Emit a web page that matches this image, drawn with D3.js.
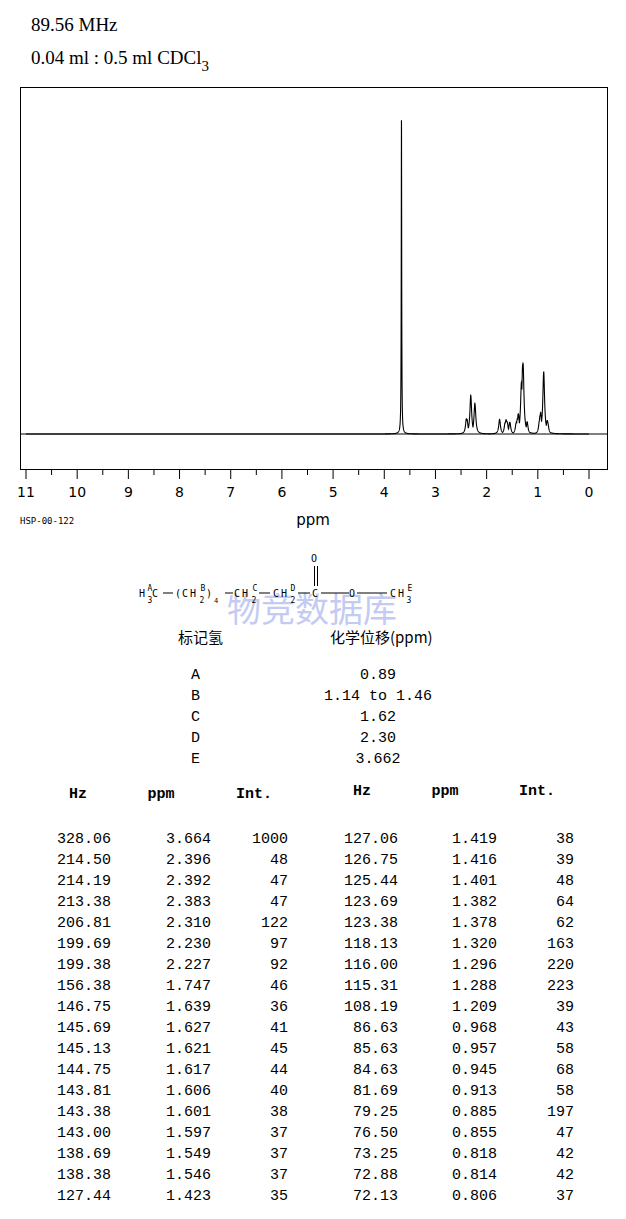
<!DOCTYPE html>
<html><head><meta charset="utf-8">
<script src="https://cdn.jsdelivr.net/npm/d3@7"></script>
<style>body{margin:0;background:#fff}</style>
</head><body>
<script>
const hz  = [328.06,214.50,214.19,213.38,206.81,199.69,199.38,156.38,146.75,145.69,145.13,144.75,143.81,143.38,143.00,138.69,138.38,127.44,
             127.06,126.75,125.44,123.69,123.38,118.13,116.00,115.31,108.19,86.63,85.63,84.63,81.69,79.25,76.50,73.25,72.88,72.13];
const ppm = [3.664,2.396,2.392,2.383,2.310,2.230,2.227,1.747,1.639,1.627,1.621,1.617,1.606,1.601,1.597,1.549,1.546,1.423,
             1.419,1.416,1.401,1.382,1.378,1.320,1.296,1.288,1.209,0.968,0.957,0.945,0.913,0.885,0.855,0.818,0.814,0.806];
const inten = [1000,48,47,47,122,97,92,46,36,41,45,44,40,38,37,37,37,35,
               38,39,48,64,62,163,220,223,39,43,58,68,58,197,47,42,42,37];
const xTicks = [11,10,9,8,7,6,5,4,3,2,1,0];
const labels = ['A','B','C','D','E'];
const shifts = ['0.89','1.14 to 1.46','1.62','2.30','3.662'];

const W = 626, H = 1219;
const svg = d3.select('body').append('svg').attr('width', W).attr('height', H);

const x = d3.scaleLinear().domain([11, 0]).range([26, 589]);
const y = d3.scaleLinear().domain([0, 1000]).range([434, 117]);

// header
svg.append('text').attr('x', 31).attr('y', 31).attr('font-family', 'Liberation Serif').attr('font-size', 19).text('89.56 MHz');
const t2 = svg.append('text').attr('x', 31).attr('y', 64).attr('font-family', 'Liberation Serif').attr('font-size', 19);
t2.append('tspan').text('0.04 ml : 0.5 ml CDCl');
t2.append('tspan').attr('dy', 7).attr('font-size', 15).text('3');

svg.append('rect').attr('x', 20.5).attr('y', 87.5).attr('width', 587).attr('height', 382)
  .attr('fill', 'none').attr('stroke', '#000');

// spectrum: each listed peak drawn as a lorentzian, envelope = highest line
const grid = d3.range(0, 11.0001, 0.0015);
const pts = grid.map(p => {
  let s = 0;
  for (let i = 0; i < ppm.length; i++) {
    const w = i === 0 ? 0.005 : 0.02;
    const d = (p - ppm[i]) / w;
    s = Math.max(s, inten[i] / (1 + d * d));
  }
  return [p, s];
});
svg.append('path').datum(pts)
  .attr('d', d3.line().x(d => x(d[0])).y(d => y(d[1])))
  .attr('fill', 'none').attr('stroke', '#000').attr('stroke-width', 1.1);
svg.append('line').attr('x1', 21).attr('x2', 607).attr('y1', y(0)).attr('y2', y(0)).attr('stroke', '#000');

// axis
const ax = svg.append('g');
ax.selectAll('.maj').data(xTicks).enter().append('line')
  .attr('x1', d => x(d)).attr('x2', d => x(d)).attr('y1', 470).attr('y2', 479).attr('stroke', '#000');
ax.selectAll('.min').data(xTicks.slice(0, -1).map(d => d - 0.5)).enter().append('line')
  .attr('x1', d => x(d)).attr('x2', d => x(d)).attr('y1', 470).attr('y2', 475).attr('stroke', '#000');
ax.selectAll('text').data(xTicks).enter().append('text')
  .attr('x', d => x(d)).attr('y', 497).attr('text-anchor', 'middle')
  .attr('font-family', 'DejaVu Sans').attr('font-size', 14).text(d => d);
svg.append('text').attr('x', 313).attr('y', 525).attr('text-anchor', 'middle')
  .attr('font-family', 'DejaVu Sans').attr('font-size', 15).text('ppm');
svg.append('text').attr('x', 20).attr('y', 524).attr('font-family', 'DejaVu Sans Mono').attr('font-size', 9).text('HSP-00-122');

// watermark
svg.append('text').attr('x', 312).attr('y', 622).attr('text-anchor', 'middle')
  .attr('font-family', 'Noto Sans CJK SC').attr('font-size', 34).attr('fill', '#c4cbf2')
  .text('物竞数据库');

// structure (glyph positions)
const st = svg.append('g').attr('font-family', 'DejaVu Sans Mono').attr('fill', '#000');
const glyphs = [['H',142,597,10],['3',150,603,8],['A',150,591,8],['C',155,597,10],['(',178,597,10],['C',185,597,10],['H',193,597,10],
  ['2',202,603,8],['B',203,591,8],[')',209,597,10],['4',216,603,7],['C',237,597,10],['H',245,597,10],['2',254,603,8],['C',255,591,8],
  ['C',276,597,10],['H',284,597,10],['2',293,603,8],['D',293,591,8],['C',315,597,10],['O',352,597,10],['C',393,597,10],['H',401,597,10],
  ['3',409,603,8],['E',410,591,8],['O',314,562,10]];
st.selectAll('text').data(glyphs).enter().append('text')
  .attr('x', d => d[1]).attr('y', d => d[2]).attr('font-size', d => d[3]).attr('text-anchor', 'middle').text(d => d[0]);
const bonds = [[163,173,593,593],[225,233,593,593],[259,270,593,593],[298,310,593,593],[321,349,593,593],[357,387,593,593],
  [314.5,314.5,566,586],[317.5,317.5,566,586]];
st.selectAll('line').data(bonds).enter().append('line')
  .attr('x1', d => d[0]).attr('x2', d => d[1]).attr('y1', d => d[2]).attr('y2', d => d[3]).attr('stroke', '#000');

svg.append('text').attr('x', 178).attr('y', 643).attr('font-family', 'Noto Sans CJK SC').attr('font-size', 15).text('标记氢');
svg.append('text').attr('x', 330).attr('y', 643).attr('font-family', 'Noto Sans CJK SC').attr('font-size', 15).text('化学位移(ppm)');
const asg = svg.append('g').attr('font-family', 'Liberation Mono').attr('font-size', 15);
asg.selectAll('.l').data(labels).enter().append('text')
  .attr('x', 191).attr('y', (d, i) => 679 + i * 21).text(d => d);
asg.selectAll('.s').data(shifts).enter().append('text')
  .attr('x', 378).attr('y', (d, i) => 679 + i * 21).attr('text-anchor', 'middle').text(d => d);

// peak table
const tb = svg.append('g').attr('font-family', 'Liberation Mono').attr('font-size', 15);
const half = 18;
[[0, 798, 78, 161, 254, 111, 211, 288], [half, 795, 362, 445, 537, 398, 497, 574]].forEach(c => {
  const [o, hy, h1, h2, h3, r1, r2, r3] = c;
  [['Hz', h1], ['ppm', h2], ['Int.', h3]].forEach(h =>
    tb.append('text').attr('x', h[1]).attr('y', hy).attr('text-anchor', 'middle').attr('font-weight', 'bold').text(h[0]));
  d3.range(half).forEach(i => {
    const yy = 843 + i * 21;
    tb.append('text').attr('x', r1).attr('y', yy).attr('text-anchor', 'end').text(hz[o + i].toFixed(2));
    tb.append('text').attr('x', r2).attr('y', yy).attr('text-anchor', 'end').text(ppm[o + i].toFixed(3));
    tb.append('text').attr('x', r3).attr('y', yy).attr('text-anchor', 'end').text(inten[o + i]);
  });
});
</script>
</body></html>
